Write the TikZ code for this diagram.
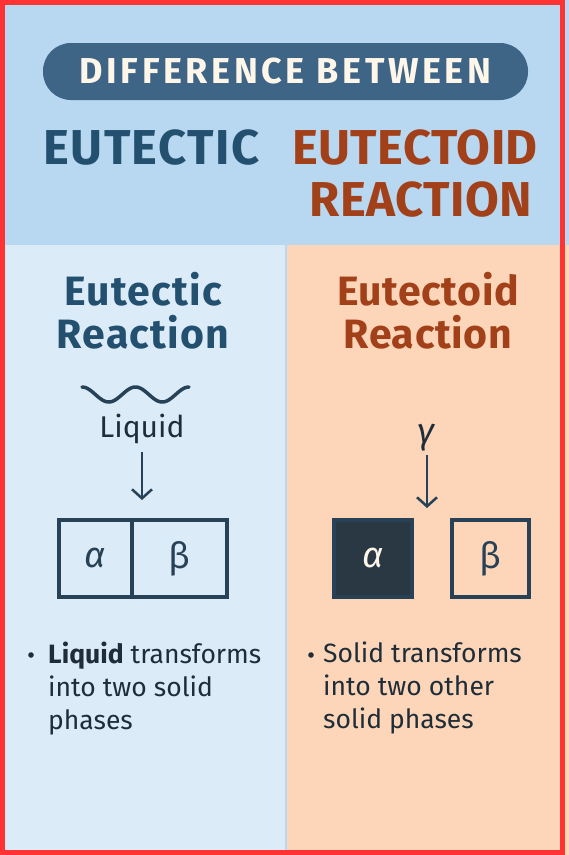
\documentclass[tikz,border=0pt]{standalone}
\usepackage{fontspec}
\setmainfont{Fira Sans}
\usepackage{amsmath}
\usetikzlibrary{arrows.meta}
\usetikzlibrary{calc}

\definecolor{HeadBg}{HTML}{B7D8F0}
\definecolor{PillBlue}{HTML}{3E6486}
\definecolor{PillText}{HTML}{FFF6EA}
\definecolor{DeepBlue}{HTML}{24506F}
\definecolor{Rust}{HTML}{A2401A}
\definecolor{LeftBg}{HTML}{DCEBF8}
\definecolor{RightBg}{HTML}{FDD6B9}
\definecolor{Ink}{HTML}{1F2D38}
\definecolor{BoxLine}{HTML}{274257}
\definecolor{BoxFill}{HTML}{293843}
\definecolor{Frame}{HTML}{FF3333}

\tikzset{
    heading/.style={font=\fontsize{49}{52}\selectfont\bfseries\addfontfeature{LetterSpace=3}, inner sep=0pt},
    subhead/.style={font=\fontsize{41}{43}\selectfont\bfseries\addfontfeature{LetterSpace=3}, align=center, inner sep=0pt},
    bodytext/.style={font=\fontsize{26.5}{33}\selectfont, text=Ink, align=left, anchor=north west, inner sep=0pt},
    phase/.style={draw=BoxLine, line width=3.5pt, outer sep=0pt, minimum height=77pt, inner sep=0pt, font=\fontsize{36}{36}\selectfont, text=BoxLine},
    flow/.style={-{Straight Barb[length=9pt,width=20pt,line width=2.5pt]}, line width=2.5pt, draw=BoxLine}
}

\begin{document}
\begin{tikzpicture}[x=1pt, y=1pt]
        \useasboundingbox (0,0) rectangle (569,-855);

        % Backgrounds
        \fill[HeadBg] (0,0) rectangle (569,-245);
        \fill[LeftBg] (0,-245) rectangle (285,-855);
        \fill[HeadBg] (285,-245) rectangle (287,-855);
        \fill[RightBg] (287,-245) rectangle (569,-855);

        % Title pill
        \node[fill=PillBlue, rounded corners=28pt, minimum width=485pt, minimum height=57pt,
              text=PillText, font=\fontsize{36}{36}\selectfont\bfseries\addfontfeature{LetterSpace=10}] (title) at (285.5,-71.5) {DIFFERENCE BETWEEN};

        \node[heading, text=DeepBlue] (eutectic) at (151.5,-148) {EUTECTIC};
        \node[heading, text=Rust, align=center, font=\fontsize{49}{52}\selectfont\bfseries\addfontfeature{LetterSpace=1}] (eutectoid) at (415,-174) {EUTECTOID\\\hspace*{12pt}REACTION};

        % Column headings
        \node[subhead, text=DeepBlue] (lefthead) at (143,-311) {Eutectic\\Reaction};
        \node[subhead, text=Rust, font=\fontsize{41}{43}\selectfont\bfseries\addfontfeature{LetterSpace=1.5}] (righthead) at (428,-311) {Eutectoid\\Reaction};

        % Liquid wave
        \draw[line width=3.5pt, BoxLine, line cap=round]
            plot[domain=82:189, samples=80, smooth] (\x, {-394.5 + 7.5*cos(6.729*(\x-82))});

        % Eutectic side
        \node[font=\fontsize{30}{30}\selectfont, text=Ink] (liquid) at (142,-429) {Liquid};
        \node[phase, minimum width=73pt, anchor=west] (alphaL) at (59,-558.5) {\textit{α}};
        \node[phase, minimum width=95pt, anchor=west] (betaL) at (alphaL.east) {β};
        \coordinate (liqend) at (142,-500);
        \draw[flow] ([yshift=-5pt]liquid.south) -- (liqend);
        
        % Eutectoid side
        \node[font=\fontsize{36}{36}\selectfont, text=Ink] (gamma) at (427,-438) {\textit{γ}};
        \node[phase, fill=BoxFill, minimum width=78pt, text=PillText] (alphaR) at (373,-558.5) {\textit{α}};
        \node[phase, minimum width=77pt] (betaR) at (490.5,-558.5) {β};
        \coordinate (gap) at (427,-508);
        \draw[flow] (gamma.south) -- (gap);

        % Bullet texts
        \fill[Ink] (31,-655) circle (2.8pt);
        \node[bodytext] (leftnote) at (48,-642) {\textbf{Liquid} transforms\\into two solid\\phases};
        \fill[Ink] (311,-655) circle (2.8pt);
        \node[bodytext] (rightnote) at (323,-642) {Solid transforms\\into two other\\solid phases};

        % Red frame
        \draw[Frame, line width=5pt] (2.5,-2.5) rectangle (562.5,-852.5);
    \end{tikzpicture}
\end{document}
